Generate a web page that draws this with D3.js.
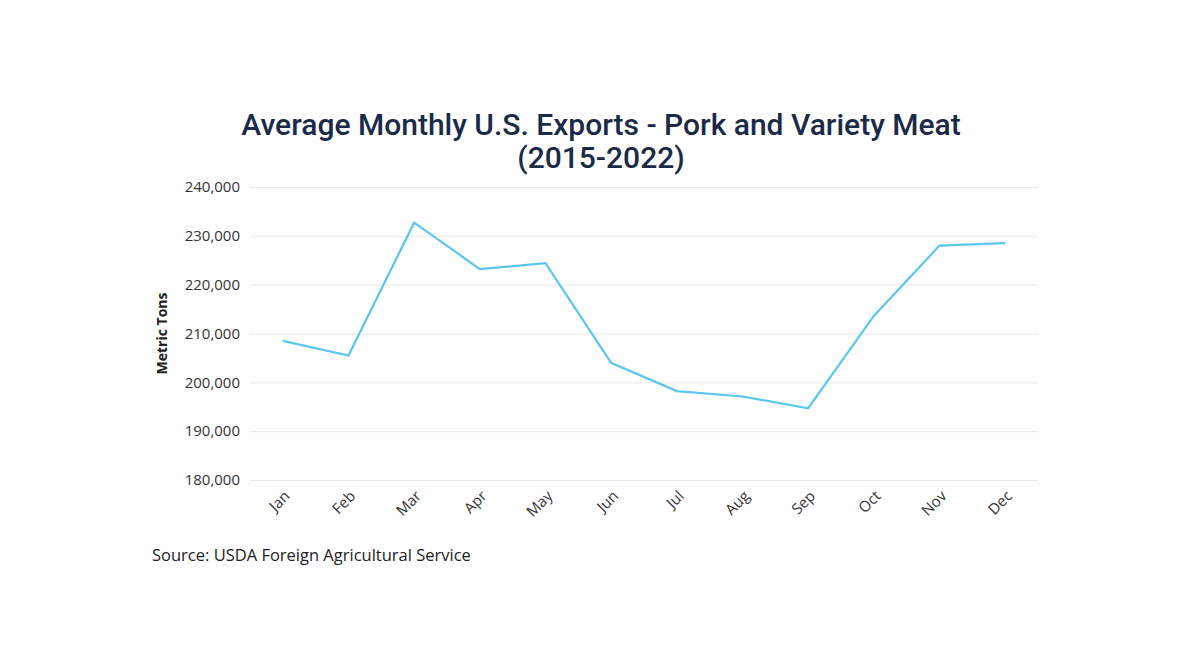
<!DOCTYPE html>
<html>
<head>
<meta charset="utf-8">
<script src="https://cdn.jsdelivr.net/npm/d3@7"></script>
<style>
  body { margin: 0; background: #fff; }
  .title { font-family: Roboto, "DejaVu Sans", sans-serif; font-weight: 500; fill: #1b2a47; }
  .tick-label { font-family: "Open Sans", Lato, sans-serif; fill: #333; }
  .grid line { stroke: #e9e9e9; stroke-width: 1; }
  .grid path { display: none; }
</style>
</head>
<body>
<div id="chart"></div>
<script>
const months = ["Jan", "Feb", "Mar", "Apr", "May", "Jun", "Jul", "Aug", "Sep", "Oct", "Nov", "Dec"];
const porkExports = [208500, 205500, 232700, 223200, 224400, 204000, 198200, 197100, 194700, 213600, 228000, 228500];
const yTicks = [180000, 190000, 200000, 210000, 220000, 230000, 240000];

(function () {
  const width = 1200;
  const height = 670;
  const plot = { left: 250, right: 1038, top: 187, bottom: 480 };

  const svg = d3.select("#chart")
    .append("svg")
    .attr("width", width)
    .attr("height", height);

  const x = d3.scaleBand().domain(months).range([plot.left, plot.right]);
  const y = d3.scaleLinear().domain([180000, 240000]).range([plot.bottom, plot.top]);

  // gridlines
  svg.append("g")
    .attr("class", "grid")
    .attr("transform", `translate(${plot.left},0)`)
    .call(d3.axisLeft(y).tickValues(yTicks).tickSize(-(plot.right - plot.left)).tickFormat(""));

  // y labels
  svg.append("g")
    .selectAll("text")
    .data(yTicks)
    .join("text")
    .attr("class", "tick-label")
    .attr("x", 240)
    .attr("y", (d) => y(d))
    .attr("dy", "0.35em")
    .attr("text-anchor", "end")
    .style("font-size", "15px")
    .text((d) => d3.format(",")(d));

  // x labels
  svg.append("g")
    .selectAll("text")
    .data(months)
    .join("text")
    .attr("class", "tick-label")
    .attr("text-anchor", "end")
    .attr("transform", (d) => `translate(${x(d) + x.bandwidth() / 2 + 8},${plot.bottom + 17}) rotate(-45)`)
    .style("font-size", "15px")
    .text((d) => d);

  // axis title
  svg.append("text")
    .attr("transform", `translate(167,${(plot.top + plot.bottom) / 2}) rotate(-90)`)
    .attr("text-anchor", "middle")
    .style("font-family", "'Open Sans', sans-serif")
    .style("font-weight", "700")
    .style("font-size", "14px")
    .style("fill", "#222")
    .text("Metric Tons");

  // line
  const line = d3.line()
    .x((d, i) => x(months[i]) + x.bandwidth() / 2)
    .y((d) => y(d));

  svg.append("path")
    .datum(porkExports)
    .attr("fill", "none")
    .attr("stroke", "#5bc6ee")
    .attr("stroke-width", 2.2)
    .attr("d", line);

  // title
  svg.append("text")
    .attr("class", "title")
    .attr("x", 601)
    .attr("y", 135)
    .attr("text-anchor", "middle")
    .style("font-size", "30px")
    .text("Average Monthly U.S. Exports - Pork and Variety Meat");

  svg.append("text")
    .attr("class", "title")
    .attr("x", 601)
    .attr("y", 168)
    .attr("text-anchor", "middle")
    .style("font-size", "30px")
    .text("(2015-2022)");

  // source
  svg.append("text")
    .attr("x", 152)
    .attr("y", 561)
    .style("font-family", "'Open Sans', sans-serif")
    .style("font-size", "16.5px")
    .style("fill", "#222")
    .text("Source: USDA Foreign Agricultural Service");
})();
</script>
</body>
</html>
